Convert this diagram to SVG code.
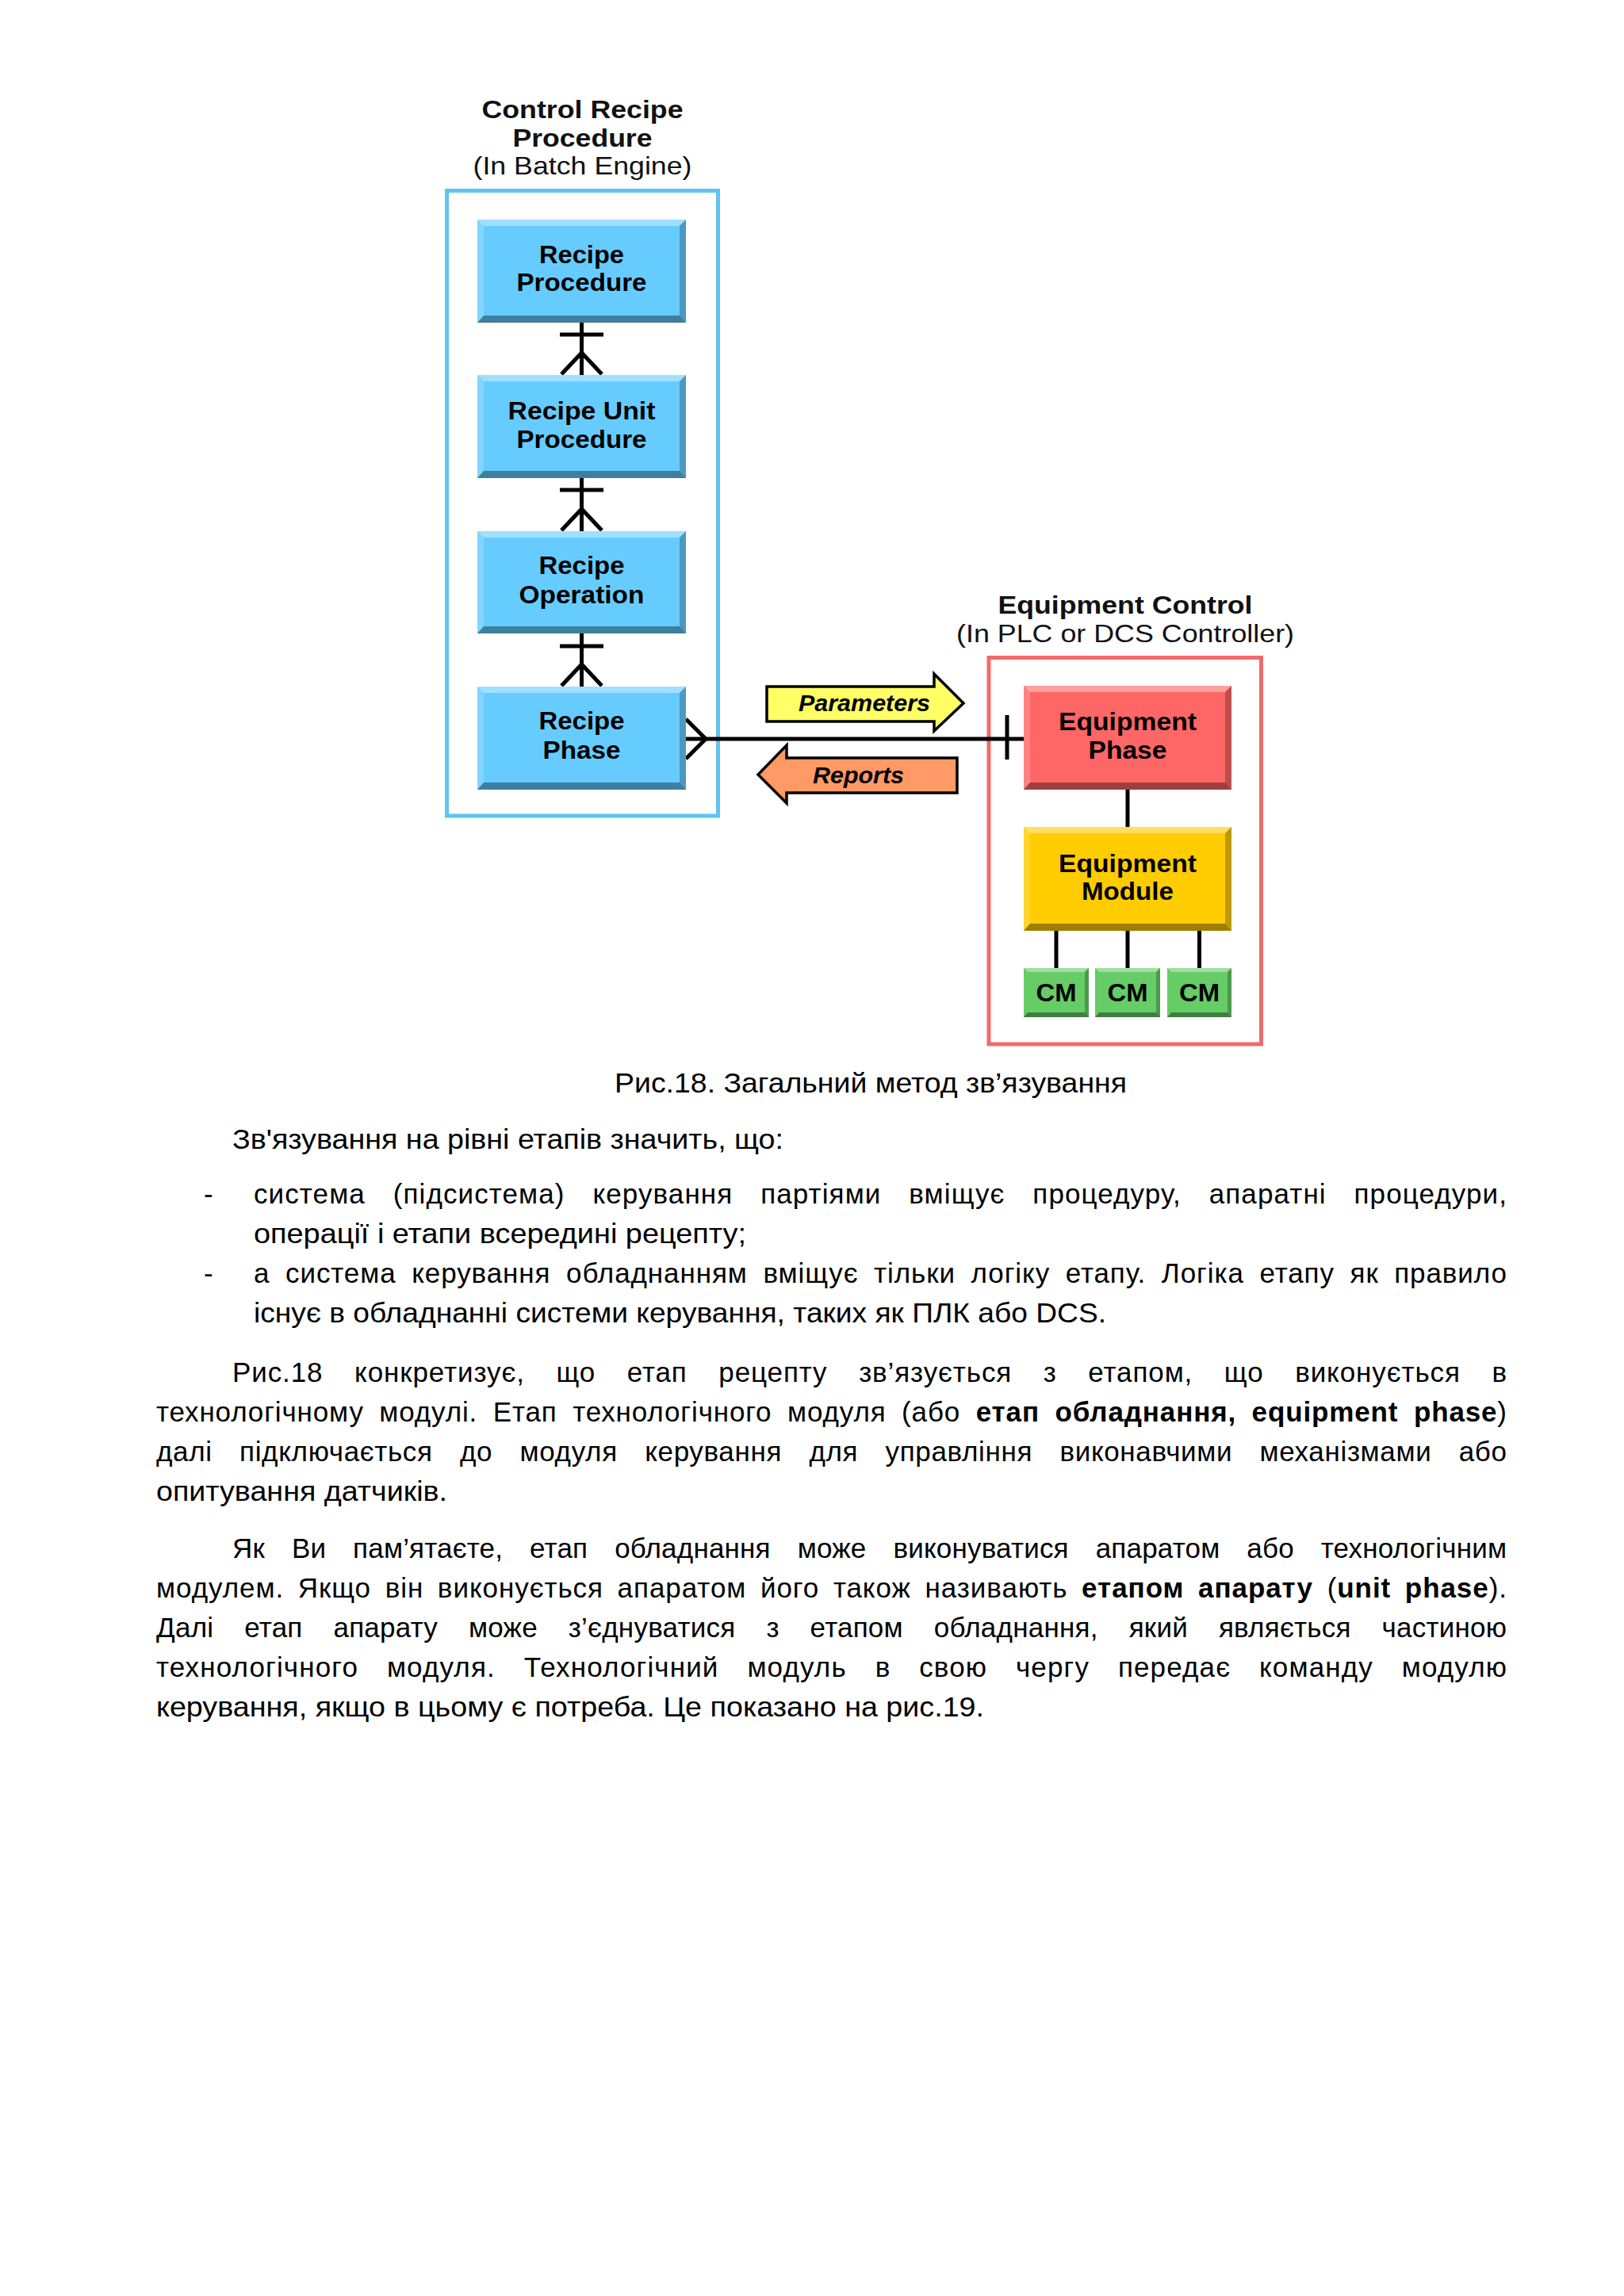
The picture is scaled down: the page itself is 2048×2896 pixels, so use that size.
<svg xmlns="http://www.w3.org/2000/svg" width="2048" height="2896" viewBox="0 0 2048 2896">
<style>
.lbl{font-family:"Liberation Sans",Arial,sans-serif;font-weight:bold;font-size:31px;fill:#000;text-anchor:middle}
.ttl{font-family:"Liberation Sans",Arial,sans-serif;font-size:32px;fill:#111;text-anchor:middle}
.ttlb{font-weight:bold}
.arr{font-family:"Liberation Sans",Arial,sans-serif;font-weight:bold;font-style:italic;font-size:30px;fill:#000;text-anchor:middle}
.hl{fill:#fff;fill-opacity:.38}
.hl2{fill:#fff;fill-opacity:.18}
.sh{fill:#000;fill-opacity:.38}
.sh2{fill:#000;fill-opacity:.25}
.blue{fill:#66CCFF}
.red{fill:#FF6666}
.yel{fill:#FFCC00}
.grn{fill:#66CC66}
.conn{stroke:#000;stroke-width:5;fill:none}
.body{font-family:"Liberation Sans",Arial,sans-serif;font-size:35px;fill:#000}
.b{font-weight:bold}
</style>
<rect x="0" y="0" width="2048" height="2896" fill="#fff"/>

<g id="container-batch">
<rect x="563.5" y="240.5" width="342" height="788.5" fill="none" stroke="#5EC4F2" stroke-width="5"/>
<text class="ttl ttlb" x="734.5" y="149" textLength="254" lengthAdjust="spacingAndGlyphs">Control Recipe</text>
<text class="ttl ttlb" x="734.5" y="185" textLength="176" lengthAdjust="spacingAndGlyphs">Procedure</text>
<text class="ttl" x="734.5" y="220" textLength="276" lengthAdjust="spacingAndGlyphs">(In Batch Engine)</text>
</g>

<g id="container-equipment">
<rect x="1247" y="829.5" width="343.5" height="487.5" fill="none" stroke="#F06A6A" stroke-width="5"/>
<text class="ttl ttlb" x="1419" y="774" textLength="321" lengthAdjust="spacingAndGlyphs">Equipment Control</text>
<text class="ttl" x="1419" y="810" textLength="426" lengthAdjust="spacingAndGlyphs">(In PLC or DCS Controller)</text>
</g>

<g id="connectors">
<path class="conn" d="M733.5 407V473M706 422H761M708 472L733.5 445L759 472"/>
<path class="conn" d="M733.5 603V670M706 618H761M708 669L733.5 642L759 669"/>
<path class="conn" d="M733.5 799V866M706 815H761M708 865L733.5 838L759 865"/>
<path class="conn" d="M865 932H1291M865 907L890 932L865 957M1270 902V958"/>
<path class="conn" d="M1422 996V1043"/>
<path class="conn" d="M1332 1174V1221M1422 1174V1221M1512.5 1174V1221"/>
</g>

<g id="node-recipe-procedure">
<rect class="blue" x="602" y="277" width="263" height="130"/>
<polygon class="hl" points="602,277 865,277 857,285 610,285"/>
<polygon class="hl2" points="602,277 610,285 610,398 602,407"/>
<polygon class="sh" points="602,407 610,398 857,398 865,407"/>
<polygon class="sh2" points="865,277 865,407 857,398 857,285"/>
<text class="lbl" x="733.5" y="332" textLength="107" lengthAdjust="spacingAndGlyphs">Recipe</text>
<text class="lbl" x="733.5" y="367" textLength="164" lengthAdjust="spacingAndGlyphs">Procedure</text>
</g>

<g id="node-recipe-unit-procedure">
<rect class="blue" x="602" y="473" width="263" height="130"/>
<polygon class="hl" points="602,473 865,473 857,481 610,481"/>
<polygon class="hl2" points="602,473 610,481 610,594 602,603"/>
<polygon class="sh" points="602,603 610,594 857,594 865,603"/>
<polygon class="sh2" points="865,473 865,603 857,594 857,481"/>
<text class="lbl" x="733.5" y="529" textLength="186" lengthAdjust="spacingAndGlyphs">Recipe Unit</text>
<text class="lbl" x="733.5" y="565" textLength="164" lengthAdjust="spacingAndGlyphs">Procedure</text>
</g>

<g id="node-recipe-operation">
<rect class="blue" x="602" y="670" width="263" height="129"/>
<polygon class="hl" points="602,670 865,670 857,678 610,678"/>
<polygon class="hl2" points="602,670 610,678 610,790 602,799"/>
<polygon class="sh" points="602,799 610,790 857,790 865,799"/>
<polygon class="sh2" points="865,670 865,799 857,790 857,678"/>
<text class="lbl" x="733.5" y="724" textLength="108" lengthAdjust="spacingAndGlyphs">Recipe</text>
<text class="lbl" x="733.5" y="761" textLength="158" lengthAdjust="spacingAndGlyphs">Operation</text>
</g>

<g id="node-recipe-phase">
<rect class="blue" x="602" y="866" width="263" height="130"/>
<polygon class="hl" points="602,866 865,866 857,874 610,874"/>
<polygon class="hl2" points="602,866 610,874 610,987 602,996"/>
<polygon class="sh" points="602,996 610,987 857,987 865,996"/>
<polygon class="sh2" points="865,866 865,996 857,987 857,874"/>
<text class="lbl" x="733.5" y="920" textLength="108" lengthAdjust="spacingAndGlyphs">Recipe</text>
<text class="lbl" x="733.5" y="957" textLength="98" lengthAdjust="spacingAndGlyphs">Phase</text>
</g>

<g id="node-equipment-phase">
<rect class="red" x="1291" y="865" width="262" height="131"/>
<polygon class="hl" points="1291,865 1553,865 1545,873 1299,873"/>
<polygon class="hl2" points="1291,865 1299,873 1299,987 1291,996"/>
<polygon class="sh" points="1291,996 1299,987 1545,987 1553,996"/>
<polygon class="sh2" points="1553,865 1553,996 1545,987 1545,873"/>
<text class="lbl" x="1422" y="921" textLength="174" lengthAdjust="spacingAndGlyphs">Equipment</text>
<text class="lbl" x="1422" y="957" textLength="99" lengthAdjust="spacingAndGlyphs">Phase</text>
</g>

<g id="node-equipment-module">
<rect class="yel" x="1291" y="1043" width="262" height="131"/>
<polygon class="hl" points="1291,1043 1553,1043 1545,1051 1299,1051"/>
<polygon class="hl2" points="1291,1043 1299,1051 1299,1165 1291,1174"/>
<polygon class="sh" points="1291,1174 1299,1165 1545,1165 1553,1174"/>
<polygon class="sh2" points="1553,1043 1553,1174 1545,1165 1545,1051"/>
<text class="lbl" x="1422" y="1100" textLength="174" lengthAdjust="spacingAndGlyphs">Equipment</text>
<text class="lbl" x="1422" y="1135" textLength="116" lengthAdjust="spacingAndGlyphs">Module</text>
</g>

<g id="node-cm-1">
<rect class="grn" x="1291" y="1221" width="82" height="62"/>
<polygon class="hl" points="1291,1221 1373,1221 1368,1226 1296,1226"/>
<polygon class="sh" points="1291,1283 1296,1277 1368,1277 1373,1283"/>
<polygon class="sh2" points="1373,1221 1373,1283 1368,1277 1368,1226"/>
<text class="lbl" x="1332" y="1263" textLength="51" lengthAdjust="spacingAndGlyphs" style="font-size:32px">CM</text>
</g>
<g id="node-cm-2">
<rect class="grn" x="1381" y="1221" width="82" height="62"/>
<polygon class="hl" points="1381,1221 1463,1221 1458,1226 1386,1226"/>
<polygon class="sh" points="1381,1283 1386,1277 1458,1277 1463,1283"/>
<polygon class="sh2" points="1463,1221 1463,1283 1458,1277 1458,1226"/>
<text class="lbl" x="1422" y="1263" textLength="51" lengthAdjust="spacingAndGlyphs" style="font-size:32px">CM</text>
</g>
<g id="node-cm-3">
<rect class="grn" x="1472" y="1221" width="81" height="62"/>
<polygon class="hl" points="1472,1221 1553,1221 1548,1226 1477,1226"/>
<polygon class="sh" points="1472,1283 1477,1277 1548,1277 1553,1283"/>
<polygon class="sh2" points="1553,1221 1553,1283 1548,1277 1548,1226"/>
<text class="lbl" x="1512.5" y="1263" textLength="51" lengthAdjust="spacingAndGlyphs" style="font-size:32px">CM</text>
</g>

<g id="arrow-parameters">
<polygon points="967,866 1178,866 1178,850 1215,887 1178,922 1178,910 967,910" fill="#FFFF66" stroke="#000" stroke-width="3.5" stroke-linejoin="miter"/>
<text class="arr" x="1090" y="897" textLength="166" lengthAdjust="spacingAndGlyphs">Parameters</text>
</g>
<g id="arrow-reports">
<polygon points="1207,956 992,956 992,940 956,977 992,1013 992,1000 1207,1000" fill="#FF9966" stroke="#000" stroke-width="3.5" stroke-linejoin="miter"/>
<text class="arr" x="1082.5" y="988" textLength="115" lengthAdjust="spacingAndGlyphs">Reports</text>
</g>

<g id="body-text" class="body">
<text x="775" y="1378" textLength="646" lengthAdjust="spacingAndGlyphs">Рис.18. Загальний метод зв’язування</text>
<text x="293" y="1449" textLength="695" lengthAdjust="spacingAndGlyphs">Зв'язування на рівні етапів значить, що:</text>
<text x="257" y="1518">-</text>
<text x="320" y="1518" textLength="1580" lengthAdjust="spacing" style="word-spacing:24px">система (підсистема) керування партіями вміщує процедуру, апаратні процедури,</text>
<text x="320" y="1568" textLength="621" lengthAdjust="spacingAndGlyphs">операції і етапи всередині рецепту;</text>
<text x="257" y="1618">-</text>
<text x="320" y="1618" textLength="1580" lengthAdjust="spacing" style="word-spacing:9px">а система керування обладнанням вміщує тільки логіку етапу. Логіка етапу як правило</text>
<text x="320" y="1668" textLength="1075" lengthAdjust="spacingAndGlyphs">існує в обладнанні системи керування, таких як ПЛК або DCS.</text>
<text x="293" y="1743" textLength="1607" lengthAdjust="spacing" style="word-spacing:29px">Рис.18 конкретизує, що етап рецепту зв’язується з етапом, що виконується в</text>
<text x="197" y="1793" textLength="1703" lengthAdjust="spacing" style="word-spacing:9px">технологічному модулі. Етап технологічного модуля (або <tspan class="b">етап обладнання, equipment phase</tspan>)</text>
<text x="197" y="1843" textLength="1703" lengthAdjust="spacing" style="word-spacing:24px">далі підключається до модуля керування для управління виконавчими механізмами або</text>
<text x="197" y="1893" textLength="367" lengthAdjust="spacingAndGlyphs">опитування датчиків.</text>
<text x="293" y="1965" textLength="1607" lengthAdjust="spacing" style="word-spacing:24px">Як Ви пам’ятаєте, етап обладнання може виконуватися апаратом або технологічним</text>
<text x="197" y="2015" textLength="1703" lengthAdjust="spacing" style="word-spacing:7px">модулем. Якщо він виконується апаратом його також називають <tspan class="b">етапом апарату</tspan> (<tspan class="b">unit phase</tspan>).</text>
<text x="197" y="2065" textLength="1703" lengthAdjust="spacing" style="word-spacing:29px">Далі етап апарату може з’єднуватися з етапом обладнання, який являється частиною</text>
<text x="197" y="2115" textLength="1703" lengthAdjust="spacing" style="word-spacing:25px">технологічного модуля. Технологічний модуль в свою чергу передає команду модулю</text>
<text x="197" y="2165" textLength="1044" lengthAdjust="spacingAndGlyphs">керування, якщо в цьому є потреба. Це показано на рис.19.</text>
</g>
</svg>
